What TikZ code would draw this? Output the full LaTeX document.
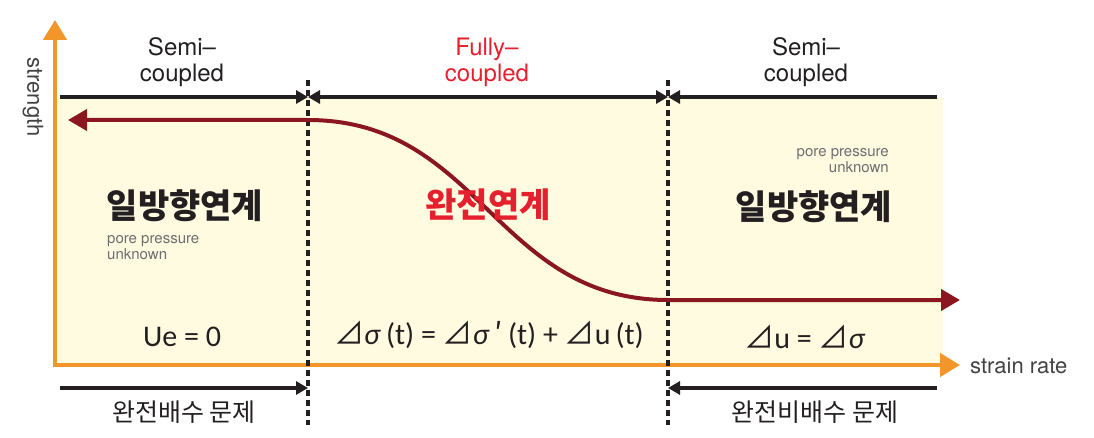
\documentclass[tikz,border=0pt]{standalone}
\usepackage{fontspec}
\setmainfont{Carlito}
\newfontfamily\heros{TeX Gyre Heros}
\newfontfamily\krfont{Noto Sans CJK KR}
\usetikzlibrary{arrows.meta}
\definecolor{axisorange}{HTML}{F3962A}
\definecolor{bgyellow}{HTML}{FFFBE1}
\definecolor{curvered}{HTML}{8A1620}
\definecolor{titlered}{HTML}{E5202E}
\definecolor{notegray}{HTML}{6D6E71}
\definecolor{inkblack}{HTML}{231F20}
\newcommand{\dt}{{\krfont ⊿}}
\newcommand{\prm}{{\krfont ′}}

\begin{document}
\begin{tikzpicture}[x=1pt,y=-1pt,inner sep=0pt,
  axisline/.style={axisorange,line width=4.5pt,-{Triangle[length=20pt,width=23pt]}},
  dimline/.style={inkblack,line width=3.2pt},
  divider/.style={inkblack,line width=3.2pt,dash pattern=on 6pt off 4pt},
  strengthcurve/.style={curvered,line width=4pt},
  toplabel/.style={align=center,font=\heros\fontsize{24}{26}\selectfont,text=inkblack},
  bigkr/.style={font=\krfont\bfseries\fontsize{34}{38}\selectfont,text=inkblack},
  note/.style={font=\heros\fontsize{15}{16}\selectfont,text=notegray},
  formula/.style={font=\fontsize{30}{32}\selectfont,text=inkblack},
  botlabel/.style={font=\krfont\fontsize{25}{27}\selectfont,text=inkblack}]
\useasboundingbox (0,0) rectangle (1094,438);

% Background
\fill[bgyellow] (58,97) rectangle (943,365);

% Axes
\coordinate (origin) at (55,365);
\coordinate (ytip) at (55,20);
\coordinate (xtip) at (960,365);
\draw[axisline] (origin) -- (ytip);
\draw[axisline] ([xshift=-2.25pt]origin) -- (xtip);
\node[rotate=-90,font=\heros\fontsize{22}{24}\selectfont,text=inkblack!85] (ylabel) at (33,97) {strength};
\node[anchor=west,font=\heros\fontsize{22}{24}\selectfont,text=inkblack!85] (xlabel) at (970,366) {strain rate};

% Dividers
\coordinate (d1top) at (308,80);
\coordinate (d1bot) at (308,425);
\coordinate (d2top) at (668,80);
\coordinate (d2bot) at (668,425);
\draw[divider] (d1top) -- (d1bot);
\draw[divider] (d2top) -- (d2bot);

% Coupling ranges
\coordinate (topL) at (60,97);
\coordinate (topR) at (937,97);
\draw[dimline,-{Triangle[length=12pt,width=13pt]}] (topL) -- (d1top |- topL);
\draw[dimline,{Triangle[length=12pt,width=13pt]}-{Triangle[length=12pt,width=13pt]}] (d1top |- topL) -- (d2top |- topL);
\draw[dimline,-{Triangle[length=12pt,width=13pt]}] (topR) -- (d2top |- topR);
\node[toplabel] (semiL) at (182,62) {Semi–\\coupled};
\node[toplabel,text=titlered] (fully) at (487,62) {Fully–\\coupled};
\node[toplabel] (semiR) at (806,62) {Semi–\\coupled};

% Strength curve
\coordinate (cL) at (68,120);
\coordinate (c1) at (308,120);
\coordinate (c2) at (668,300);
\coordinate (cR) at (960,300);
\draw[strengthcurve,{Triangle[length=19pt,width=21pt]}-{Triangle[length=19pt,width=21pt]}]
  (cL) -- (c1) .. controls (480,120) and (496,300) .. (c2) -- (cR);

% Regimes
\node[bigkr] (oneL) at (185,206) {일방향연계};
\node[bigkr,text=titlered] (full) at (488,205) {완전연계};
\node[bigkr] (oneR) at (814,207) {일방향연계};
\node[note,anchor=north west,align=left] (poreL) at (107,235) {pore pressure\\unknown};
\node[note,anchor=north east,align=right] (poreR) at (889,148) {pore pressure\\unknown};

% Equations
\node[formula] (eqL) at (182,337) {Ue = 0};
\node[formula] (eqM) at (489,335) {\dt\textit{σ}\,(t) = \dt\textit{σ}\,\prm\,(t) + \dt u\,(t)};
\node[formula] (eqR) at (805,337) {\dt u = \dt\textit{σ}};

% Drainage
\coordinate (botL) at (60,388);
\coordinate (botR) at (937,388);
\draw[dimline,-{Triangle[length=12pt,width=13pt]}] (botL) -- (d1bot |- botL);
\draw[dimline,-{Triangle[length=12pt,width=13pt]}] (botR) -- (d2bot |- botR);
\node[botlabel] (drained) at (184,412) {완전배수 문제};
\node[botlabel] (undrained) at (815,412) {완전비배수 문제};
\end{tikzpicture}
\end{document}
